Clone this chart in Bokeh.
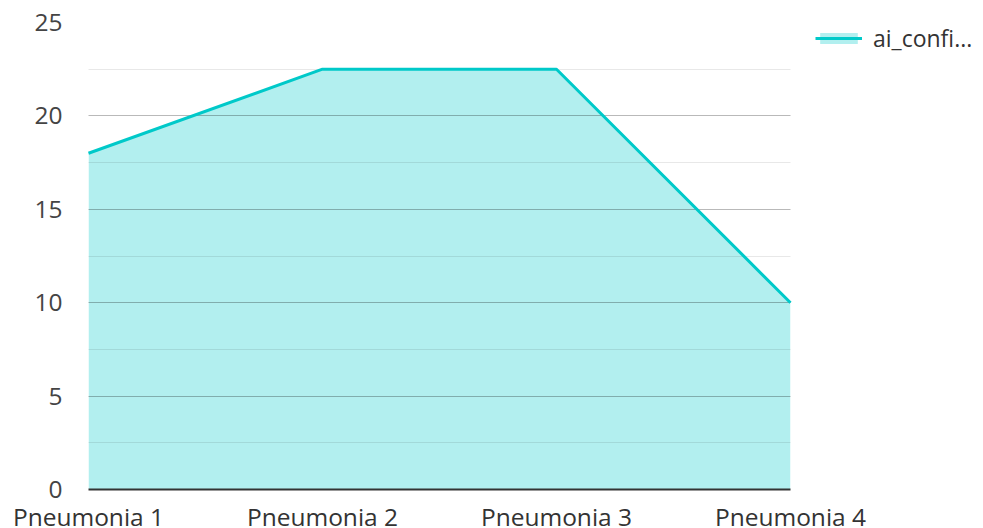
from bokeh.plotting import figure
from bokeh.models import (Range1d, FixedTicker, SingleIntervalTicker, Legend, LegendItem,
                          ColumnDataSource)
from bokeh.embed import file_html
from bokeh.resources import INLINE

categories = ["Pneumonia 1", "Pneumonia 2", "Pneumonia 3", "Pneumonia 4"]
values = [18, 22.5, 22.5, 10]
series_name = "ai_confi..."

xs = list(range(len(categories)))
src = ColumnDataSource(dict(x=xs, y=values, y0=[0] * len(values)))

FONT = "Open Sans"
LINE = "#00c9c9"
FILL = "#b2efef"
FS = "24.5px"

p = figure(frame_width=702, frame_height=467, output_backend="svg", toolbar_location=None,
           x_range=Range1d(0, len(categories) - 1), y_range=Range1d(0, 25),
           min_border_left=88, min_border_top=22, min_border_bottom=39, min_border_right=10)
p.outline_line_color = None
p.background_fill_color = "white"
p.border_fill_color = "white"

area = p.varea(x="x", y1="y0", y2="y", source=src, fill_color=FILL, fill_alpha=1.0)
line = p.line(x="x", y="y", source=src, line_color=LINE, line_width=3)
line.level = "annotation"

# x axis
p.xaxis.ticker = FixedTicker(ticks=xs)
p.xaxis.major_label_overrides = {i: c for i, c in zip(xs, categories)}
p.xaxis.major_tick_line_color = None
p.xaxis.minor_tick_line_color = None
p.xaxis.axis_line_color = "#333333"
p.xaxis.axis_line_width = 2
p.xaxis.major_label_text_font = FONT
p.xaxis.major_label_text_font_size = FS
p.xaxis.major_label_text_color = "#333333"
p.xaxis.major_label_standoff = 4

# y axis
p.yaxis.ticker = SingleIntervalTicker(interval=5, num_minor_ticks=2)
p.yaxis.axis_line_color = None
p.yaxis.major_tick_line_color = None
p.yaxis.minor_tick_line_color = None
p.yaxis.major_label_text_font = FONT
p.yaxis.major_label_text_font_size = FS
p.yaxis.major_label_text_color = "#444444"
p.yaxis.major_label_standoff = 20

p.xgrid.visible = False
p.ygrid.grid_line_color = "black"
p.ygrid.grid_line_alpha = 0.2
p.ygrid.minor_grid_line_color = "black"
p.ygrid.minor_grid_line_alpha = 0.09
p.ygrid.level = "guide"

legend = Legend(items=[LegendItem(label=series_name, renderers=[area, line])],
                location=(25, 435), margin=0, padding=0, glyph_width=47, glyph_height=14,
                label_standoff=11, label_text_font=FONT, label_text_font_size="23px",
                label_text_color="#333333", border_line_color=None, background_fill_alpha=0)
p.add_layout(legend, "right")

open("out.html", "w").write(file_html(p, INLINE))
